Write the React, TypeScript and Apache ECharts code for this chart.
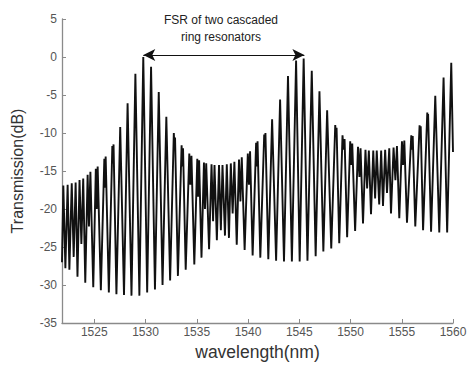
import React, { useEffect, useRef } from 'react';
import * as echarts from 'echarts';

const wavelengthNm = [
  1521.85, 1521.98, 1522.18, 1522.40, 1522.57, 1522.80, 1522.99, 1523.18, 1523.36, 1523.56,
  1523.74, 1523.92, 1524.12, 1524.35, 1524.48, 1524.62, 1524.90, 1525.15, 1525.24, 1525.33,
  1525.64, 1525.98, 1526.04, 1526.11, 1526.42, 1526.76, 1526.81, 1526.88, 1527.16, 1527.53,
  1527.90, 1528.25, 1528.63, 1529.01, 1529.40, 1529.78, 1530.16, 1530.54, 1530.92, 1531.29,
  1531.66, 1532.03, 1532.40, 1532.76, 1532.82, 1532.88, 1533.16, 1533.52, 1533.59, 1533.66,
  1533.92, 1534.27, 1534.37, 1534.48, 1534.76, 1535.05, 1535.13, 1535.23, 1535.46, 1535.70,
  1535.80, 1535.92, 1536.20, 1536.44, 1536.59, 1536.73, 1536.96, 1537.17, 1537.35, 1537.51,
  1537.75, 1537.93, 1538.14, 1538.32, 1538.50, 1538.67, 1538.90, 1539.12, 1539.26, 1539.39,
  1539.67, 1539.98, 1540.09, 1540.20, 1540.45, 1540.79, 1540.86, 1540.93, 1541.20, 1541.58,
  1541.64, 1541.70, 1541.98, 1542.35, 1542.74, 1543.13, 1543.51, 1543.90, 1544.28, 1544.69,
  1545.04, 1545.43, 1545.80, 1546.22, 1546.60, 1546.97, 1547.35, 1547.72, 1548.12, 1548.51,
  1548.57, 1548.64, 1548.90, 1549.22, 1549.32, 1549.42, 1549.67, 1549.97, 1550.07, 1550.17,
  1550.45, 1550.73, 1550.87, 1550.98, 1551.22, 1551.46, 1551.62, 1551.79, 1552.00, 1552.22,
  1552.40, 1552.56, 1552.80, 1552.99, 1553.17, 1553.38, 1553.56, 1553.78, 1553.95, 1554.20,
  1554.38, 1554.53, 1554.76, 1555.02, 1555.13, 1555.25, 1555.51, 1555.93, 1556.00, 1556.07,
  1556.32, 1556.74, 1556.79, 1556.85, 1557.08, 1557.49, 1557.53, 1557.57, 1557.86, 1558.27,
  1558.66, 1559.08, 1559.43, 1559.83, 1560.00,
];

const transmissionDb = [
  -27.0, -16.9, -27.8, -16.8, -28.0, -16.6, -26.3, -16.5, -28.9, -16.2,
  -24.6, -16.0, -29.7, -15.5, -22.3, -15.1, -30.3, -14.7, -20.0, -14.4,
  -30.7, -13.4, -17.2, -13.1, -31.0, -11.7, -14.0, -11.5, -31.2, -9.2,
  -31.3, -6.1, -31.4, -2.2, -31.4, 0.0, -31.0, -1.3, -30.6, -4.6,
  -30.0, -7.85, -29.4, -10.0, -11.8, -10.6, -28.8, -11.6, -14.4, -12.0,
  -28.0, -12.7, -16.8, -13.0, -27.3, -13.4, -18.4, -13.6, -26.4, -13.9,
  -20.0, -14.0, -25.3, -14.1, -21.6, -14.2, -24.1, -14.2, -22.8, -14.2,
  -23.5, -14.1, -23.8, -14.0, -20.6, -13.8, -24.7, -13.5, -19.0, -13.2,
  -25.4, -12.7, -16.8, -12.4, -26.1, -11.3, -14.4, -11.1, -26.4, -10.2,
  -11.8, -10.0, -26.6, -8.2, -26.8, -5.6, -26.9, -2.5, -26.9, -0.45,
  -26.9, -0.2, -26.8, -1.8, -26.2, -4.5, -25.6, -7.0, -25.2, -8.95,
  -10.2, -9.3, -24.5, -10.3, -12.2, -10.8, -23.7, -11.1, -14.2, -11.4,
  -22.9, -11.8, -15.8, -12.0, -21.9, -12.2, -17.3, -12.3, -20.7, -12.3,
  -18.6, -12.3, -19.4, -12.3, -19.6, -12.2, -17.9, -12.0, -20.6, -11.9,
  -16.2, -11.7, -21.2, -11.1, -14.2, -11.0, -21.8, -10.3, -12.2, -10.4,
  -22.3, -9.0, -10.3, -9.1, -22.8, -7.3, -8.0, -7.5, -23.0, -5.1,
  -23.1, -2.7, -23.1, -0.75, -12.5,
];

const xTickValues = [1525, 1530, 1535, 1540, 1545, 1550, 1555, 1560];
const yTickValues = [-35, -30, -25, -20, -15, -10, -5, 0, 5];
const fsrArrowEnds = [1529.78, 1545.5];
const fsrArrowLevel = 0.25;
const annotationLines = ['FSR of two cascaded', 'ring resonators'];

const FONT = '"Liberation Sans", Arial, Helvetica, sans-serif';

export default function App() {
  const ref = useRef<HTMLDivElement>(null);

  useEffect(() => {
    document.body.style.margin = '0';
    const chart = echarts.init(ref.current as HTMLDivElement, null, { renderer: 'svg' });
    const data = wavelengthNm.map((w, i) => [w, transmissionDb[i]]);
    const axisColor = '#8a8a8a';
    chart.setOption({
      animation: false,
      grid: { left: 62, right: 21, top: 19, bottom: 43 },
      xAxis: {
        type: 'value',
        min: 1521.85,
        max: 1560,
        name: 'wavelength(nm)',
        nameLocation: 'middle',
        nameGap: 14,
        nameTextStyle: { fontSize: 17.5, color: '#333', fontFamily: FONT },
        axisLine: { show: true, onZero: false, lineStyle: { color: axisColor, width: 1.3 } },
        axisTick: { show: true, inside: true, length: 4, customValues: xTickValues, lineStyle: { color: axisColor } },
        axisLabel: {
          customValues: xTickValues,
          formatter: (v: number) => String(Math.round(v)),
          color: '#555',
          fontSize: 12,
          fontFamily: FONT,
          margin: 3,
        },
        splitLine: { show: false },
      },
      yAxis: {
        type: 'value',
        min: -35,
        max: 5,
        interval: 5,
        name: 'Transmission(dB)',
        nameLocation: 'middle',
        nameGap: 37,
        nameTextStyle: { fontSize: 16, color: '#333', fontFamily: FONT },
        axisLine: { show: true, onZero: false, lineStyle: { color: axisColor, width: 1.3 } },
        axisTick: { show: true, inside: true, length: 4, customValues: yTickValues, lineStyle: { color: axisColor } },
        axisLabel: {
          customValues: yTickValues,
          formatter: (v: number) => String(Math.round(v)),
          color: '#555',
          fontSize: 12,
          fontFamily: FONT,
          margin: 5,
        },
        splitLine: { show: false },
      },
      graphic: annotationLines.map((t, i) => ({
        type: 'text',
        x: 221,
        y: 20 + i * 17,
        silent: true,
        style: {
          text: t,
          fill: '#222',
          font: `12px ${FONT}`,
          textAlign: 'center',
          textVerticalAlign: 'middle',
        },
      })),
      series: [
        {
          type: 'line',
          data,
          showSymbol: false,
          symbol: 'none',
          silent: true,
          lineStyle: { color: '#111', width: 1.9 },
          markLine: {
            silent: true,
            symbol: ['arrow', 'arrow'],
            symbolSize: [9, 12],
            label: { show: false },
            lineStyle: { color: '#111', width: 1, type: 'solid' },
            data: [
              [
                { coord: [fsrArrowEnds[0], fsrArrowLevel] },
                { coord: [fsrArrowEnds[1], fsrArrowLevel] },
              ],
            ],
          },
        },
      ],
    });
    return () => chart.dispose();
  }, []);

  return <div ref={ref} style={{ width: 474, height: 366 }} />;
}
